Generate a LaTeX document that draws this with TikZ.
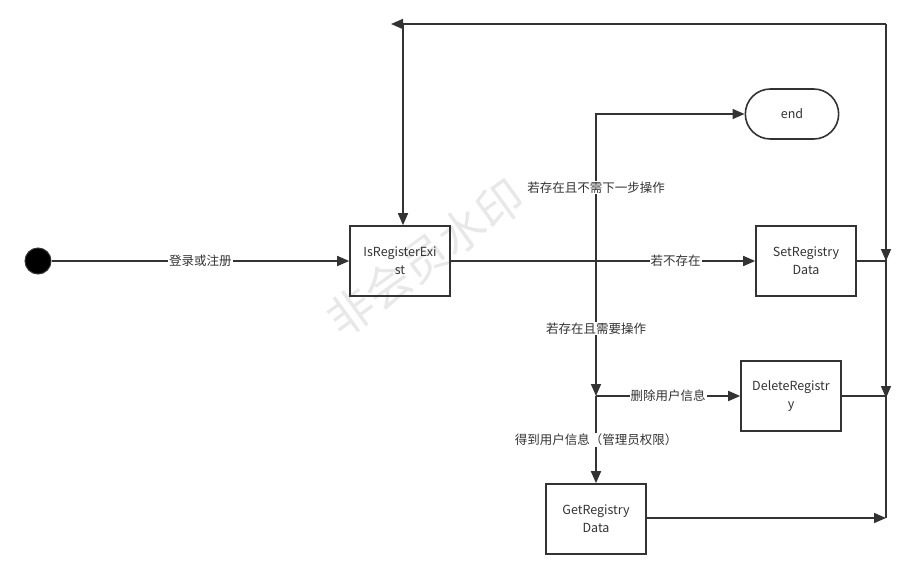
\documentclass[tikz,border=0pt]{standalone}
\usepackage{fontspec}
\setmainfont{Noto Sans CJK SC}
\usetikzlibrary{arrows.meta, shapes.misc}
\definecolor{lineclr}{HTML}{333333}
\definecolor{txtclr}{HTML}{333333}

\begin{document}
\begin{tikzpicture}[x=1pt, y=-1pt, font=\fontsize{12.5}{18}\selectfont,
    line/.style={draw=lineclr, line width=1.6pt},
    arr/.style={line, -{Triangle[length=12pt, width=10pt]}},
    box/.style={draw=lineclr, line width=1.6pt, minimum width=100pt,
        minimum height=70pt, align=center, text=txtclr},
    lbl/.style={fill=white, inner sep=1pt, text=txtclr}]

    % ==========================================
    % FRAME & WATERMARK
    % ==========================================

    \useasboundingbox (0,0) rectangle (911,579);

    % faint watermark behind the diagram
    \node[rotate=36, text=black!9, font=\fontsize{46}{46}\selectfont] (wm) at (425,258) {非会员水印};

    % ==========================================
    % STATES
    % ==========================================

    \node[circle, fill=black, draw=lineclr, line width=1pt, minimum size=26pt, inner sep=0pt] (start) at (38,261) {};
    \node[box] (isreg) at (400,261) {IsRegisterExi\\st};
    \node[box] (setreg) at (806,261) {SetRegistry\\Data};
    \node[box] (delreg) at (791,396) {DeleteRegistr\\y};
    \node[box] (getreg) at (596,519) {GetRegistry\\Data};
    \node[rounded rectangle, draw=lineclr, line width=1.6pt, minimum width=100pt,
        minimum height=50pt, text=txtclr] (endst) at (792,114) {end};

    % ==========================================
    % BRANCH POINTS
    % ==========================================

    \coordinate (split) at (596,261);   % after the existence check
    \coordinate (bend)  at (596,114);
    \coordinate (fork)  at (596,396);   % user info is needed
    \coordinate (rset)  at (886,261);
    \coordinate (rdel)  at (886,396);
    \coordinate (rget)  at (886,518);
    \coordinate (rtop)  at (886,24);
    \coordinate (ltop)  at (403,24);
    \coordinate (ltip)  at (391,24);

    % ==========================================
    % TRANSITIONS
    % ==========================================

    \draw[arr] (start) -- node[lbl] {登录或注册} (isreg);
    \draw[line] (isreg.east) -- (split);
    \draw[arr] (split) -- node[lbl] {若不存在} (setreg);
    \draw[arr] (split) -- node[lbl] {若存在且不需下一步操作} (bend) -- (endst);
    \draw[arr] (split) -- node[lbl] {若存在且需要操作} (fork);
    \draw[arr] (fork) -- node[lbl] {删除用户信息} (delreg);
    \draw[arr] (fork) -- node[lbl] {得到用户信息（管理员权限）} (getreg);

    % back to the check along the right and top
    \draw[arr] (getreg.east |- rget) -- (rget);
    \draw[line] (rget) -- (rtop);
    \draw[arr] (rtop) -- (ltip);
    \draw[arr] (ltop) -- (ltop |- isreg.north);
    \draw[line] (setreg.east) -- (rset);
    \draw[line] (delreg.east) -- (rdel);
    \draw[arr] ([yshift=14pt]rset) -- (rset);
    \draw[arr] ([yshift=12pt]rdel) -- ([yshift=-2pt]rdel);

\end{tikzpicture}
\end{document}
